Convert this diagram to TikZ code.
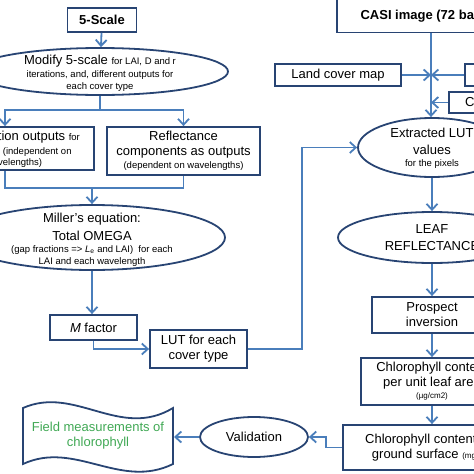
\documentclass[tikz,border=0pt]{standalone}
\usepackage{fontspec}
\setmainfont{Liberation Sans}
\usetikzlibrary{shapes.geometric,arrows.meta}

\definecolor{boxblue}{RGB}{40,68,115}
\definecolor{lineblue}{RGB}{74,126,187}
\definecolor{fieldgreen}{RGB}{64,168,84}

\newcommand{\bigtxt}{\fontsize{13}{15}\selectfont}
\newcommand{\smltxt}{\fontsize{9.5}{11.5}\selectfont}
\newcommand{\tnytxt}{\fontsize{8}{9.5}\selectfont}

\tikzset{
  flowbox/.style={rectangle,draw=boxblue,line width=1.8pt,align=center,inner sep=1pt,font=\bigtxt},
  flowoval/.style={ellipse,draw=boxblue,line width=1.8pt,inner sep=0pt},
  ovaltext/.style={align=center,inner sep=0pt,font=\bigtxt},
  link/.style={draw=lineblue,line width=1.8pt},
  flowarrow/.style={link,-{Straight Barb[length=6pt,width=11pt]}}
}

\begin{document}
\begin{tikzpicture}[x=1pt,y=-1pt]

      \useasboundingbox (0,0) rectangle (474,474);
      \clip (0,0) rectangle (474,474);

      \begin{scope}[every node/.style={flowbox}]
        \node[minimum width=69,minimum height=24,font=\bigtxt\bfseries] (scale) at (102,20) {5-Scale};
        \node[minimum width=178,minimum height=43] (gapfrac) at (5,148.5) {};
        \node[minimum width=153,minimum height=48] (refl) at (183.5,151) {Reflectance\\components as outputs\\[-2pt]{\smltxt (dependent on wavelengths)}};
        \node[minimum width=87,minimum height=25] (mfactor) at (93.5,327.5) {\textit{M} factor};
        \node[minimum width=97,minimum height=38] (lutcover) at (198.5,349) {LUT for each\\cover type};
        \node[minimum width=188,minimum height=33,font=\bigtxt\bfseries] (casi) at (431,16) {CASI image (72 bands)};
        \node[minimum width=126,minimum height=22] (landcover) at (338,75) {Land cover map};
        \node[minimum width=130,minimum height=22] (sidemap) at (530,75) {};
        \node[minimum width=122,minimum height=21,text width=90,align=left] (covermap) at (510,102.5) {C};
        \node[minimum width=120,minimum height=36] (prospect) at (432,315) {Prospect\\inversion};
        \node[minimum width=142,minimum height=47] (chlleaf) at (432,381.5) {Chlorophyll content\\per unit leaf area\\[-3pt]{\tnytxt (µg/cm2)}};
        \node[minimum width=178,minimum height=45] (chlground) at (432,447.5) {Chlorophyll content per\\ground surface {\tnytxt (mg/m2)}};
      \end{scope}

      \begin{scope}[every node/.style={flowoval}]
        \node[minimum width=256,minimum height=47] (modify) at (100,71.5) {};
        \node[minimum width=266,minimum height=65] (miller) at (92,237.5) {};
        \node[minimum width=148,minimum height=59] (extracted) at (432,147.5) {};
        \node[minimum width=188,minimum height=51] (leaf) at (432,237.5) {};
        \node[minimum width=108,minimum height=40] (validation) at (254,437) {};
      \end{scope}

      \begin{scope}[every node/.style={ovaltext}]
        \node (gapfractext) at (14,149.5) {Gap fraction outputs {\smltxt for}\\[-1pt]{\smltxt cover type (independent on}\\[-4pt]{\smltxt wavelengths)}};
        \node (modifytext) at (100,73.5) {Modify 5-scale {\smltxt for LAI, D and r}\\[-2pt]{\smltxt iterations, and, different outputs for}\\[-3pt]{\smltxt each cover type}};
        \node (millertext) at (92,239.5) {Miller’s equation:\\[3pt]Total OMEGA\\[-3pt]{\smltxt (gap fractions => \textit{L}\textsubscript{e} and LAI)\ \ for each}\\[-3pt]{\smltxt LAI and each wavelength}};
        \node (extractedtext) at (432,148.5) {Extracted LUT\\[2pt]values\\[-3pt]{\smltxt for the pixels}};
        \node (leaftext) at (432,237.5) {LEAF\\[2pt]REFLECTANCE};
        \node (validationtext) at (254,437) {Validation};
        \node[text=fieldgreen] (fieldtext) at (98,436) {Field measurements of\\chlorophyll};
      \end{scope}

      % wavy document shape
      \draw[draw=boxblue,line width=1.8pt] (23,408) .. controls (75,385) and (120,440) .. (173,408)
        -- (173,464) .. controls (120,490) and (75,440) .. (23,464) -- cycle;

      \coordinate (split) at (100,110);
      \coordinate (join) at (92,188);
      \coordinate (lutbend) at (302,349);
      \coordinate (fieldin) at (174,437);

      \begin{scope}[every path/.style={flowarrow}]
        \path (scale) edge (modify);
        \draw (modify.south) -- (split) -| (gapfrac.north);
        \draw (split) -| (refl.north);
        \draw[-] (gapfrac.south) |- (join);
        \draw[-] (refl.south) |- (join);
        \draw (join) -- (miller.north);
        \draw (miller.south) -- (miller.south |- mfactor.north);
        \draw (mfactor.south) |- (lutcover.west);
        \draw (lutcover.east) -- (lutbend) |- (extracted.west);
        \draw (casi.south) -- (casi.south |- extracted.north);
        \draw (landcover.east) -- (landcover.east -| casi.south);
        \draw (sidemap.west) -- (sidemap.west -| casi.south);
        \draw (covermap.west) -- (covermap.west -| casi.south);
        \draw (extracted.south) -- (leaf.north);
        \draw (leaf.south) -- (prospect.north);
        \draw (prospect.south) -- (chlleaf.north);
        \draw (chlleaf.south) -- (chlground.north);
        \draw (chlground.west) -- ++(-16,0) |- (validation.east);
        \draw (validation.west) -- (fieldin);
      \end{scope}

    \end{tikzpicture}
\end{document}
